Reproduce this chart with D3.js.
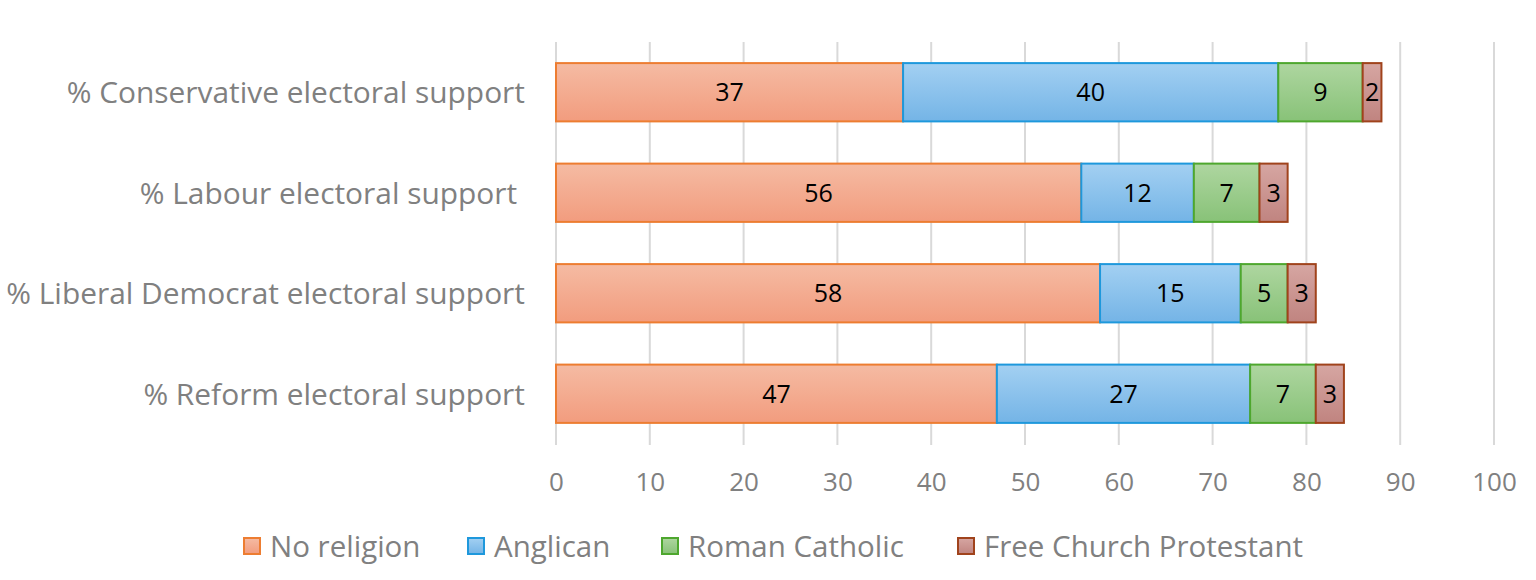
<!DOCTYPE html>
<html><head><meta charset="utf-8">
<script src="https://cdn.jsdelivr.net/npm/d3@7"></script>
<style>body{margin:0;background:#fff}svg{display:block}text{font-family:"Open Sans",sans-serif}</style>
</head><body><svg id="c" width="1536" height="580"></svg>
<script>
const categories = ["% Conservative electoral support","% Labour electoral support ","% Liberal Democrat electoral support","% Reform electoral support"];
const seriesNames = ["No religion","Anglican","Roman Catholic","Free Church Protestant"];
const noReligion = [37,56,58,47];
const anglican = [40,12,15,27];
const romanCatholic = [9,7,5,7];
const freeChurch = [2,3,3,3];
const xTicks = [0,10,20,30,40,50,60,70,80,90,100];

const seriesValues = [noReligion, anglican, romanCatholic, freeChurch];
const fills = [["#f5bba3","#f29c7e"],["#a3d0f2","#74b4e6"],["#aed6a0","#88c278"],["#d6a6a2","#c08480"]];
const strokes = ["#ed7d31","#1e98dc","#4ea72e","#a0431c"];

const svg = d3.select("#c");
const defs = svg.append("defs");
fills.forEach((f,i)=>{
  const g = defs.append("linearGradient").attr("id","g"+i).attr("x1",0).attr("y1",0).attr("x2",0).attr("y2",1);
  g.append("stop").attr("offset","0%").attr("stop-color",f[0]);
  g.append("stop").attr("offset","100%").attr("stop-color",f[1]);
});
const x = d3.scaleLinear().domain([0,100]).range([556,1494]);
const y = d3.scaleBand().domain(categories).range([42,444]).paddingInner(0.42).paddingOuter(0.21);

svg.append("g").selectAll("line").data(xTicks).join("line")
  .attr("x1",d=>x(d)).attr("x2",d=>x(d)).attr("y1",42).attr("y2",445)
  .attr("stroke","#d9d9d9").attr("stroke-width",2);

const xAxis = svg.append("g").attr("transform","translate(0,445)")
  .call(d3.axisBottom(x).tickValues(xTicks).tickSize(0).tickPadding(26));
xAxis.select(".domain").remove();
xAxis.selectAll("text").attr("fill","#808080").attr("y",37).attr("dy","0.35em").style("font-size","26px").style("font-family","'Open Sans',sans-serif");

const stacked = categories.map((c,ci)=>{
  let acc=0;
  return seriesValues.map((s,si)=>{const v=s[ci];const o={cat:c,si,x0:acc,x1:acc+v,v};acc+=v;return o;});
}).flat();

const bars = svg.append("g");
bars.selectAll("rect").data(stacked).join("rect")
  .attr("x",d=>x(d.x0)).attr("y",d=>y(d.cat)).attr("width",d=>x(d.x1)-x(d.x0)).attr("height",y.bandwidth())
  .attr("fill",d=>`url(#g${d.si})`).attr("stroke",d=>strokes[d.si]).attr("stroke-width",2);
bars.selectAll("text").data(stacked).join("text")
  .attr("x",d=>(x(d.x0)+x(d.x1))/2).attr("y",d=>y(d.cat)+y.bandwidth()/2).attr("dy","0.36em")
  .attr("text-anchor","middle").attr("fill","#000").style("font-size","25px").text(d=>d.v);

const yAxis = svg.append("g").attr("transform","translate(556,0)")
  .call(d3.axisLeft(y).tickSize(0).tickPadding(31));
yAxis.select(".domain").remove();
yAxis.selectAll("text").attr("fill","#808080").attr("dy","0.36em").style("font-size","29.9px").style("font-family","'Open Sans',sans-serif").style("white-space","pre");

const legendX = [244,468,662,958];
const lg = svg.append("g").selectAll("g").data(seriesNames).join("g")
  .attr("transform",(d,i)=>`translate(${legendX[i]},546)`);
lg.append("rect").attr("x",0).attr("y",-8).attr("width",16).attr("height",16)
  .attr("fill",(d,i)=>`url(#g${i})`).attr("stroke",(d,i)=>strokes[i]).attr("stroke-width",2);
lg.append("text").attr("x",26).attr("dy","0.36em").attr("fill","#808080").style("font-size","29.5px").text(d=>d);
</script></body></html>
